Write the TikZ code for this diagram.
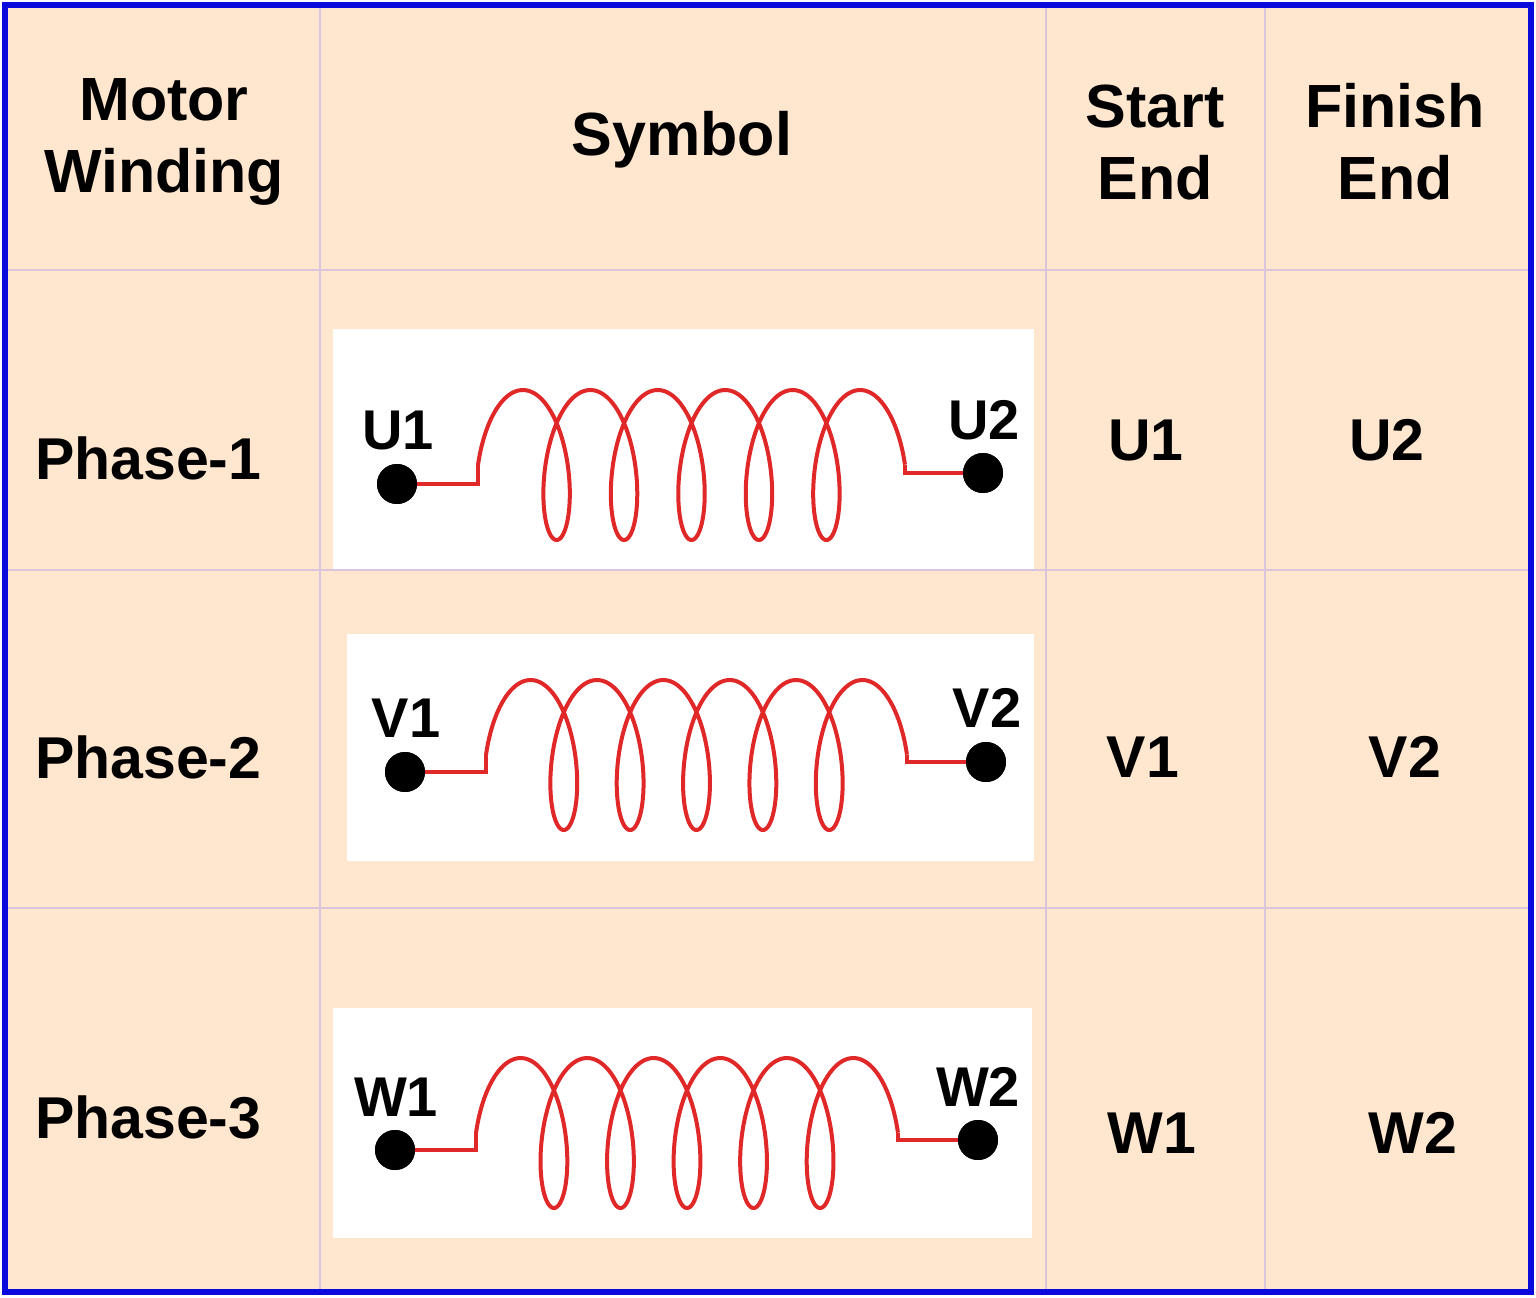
\documentclass[tikz,border=0pt]{standalone}
\usepackage{fontspec}
\setmainfont{Liberation Sans}
\definecolor{peach}{HTML}{FFE6CE}
\definecolor{gridc}{HTML}{D9C6DE}
\definecolor{bord}{HTML}{0A0ADC}
\definecolor{coilred}{HTML}{E02828}
\tikzset{
  hd/.style={font=\fontsize{30.5}{36}\selectfont\bfseries, align=center},
  cell/.style={font=\fontsize{29.5}{36}\selectfont\bfseries},
  lbl/.style={font=\fontsize{28}{32}\selectfont\bfseries},
  term/.style={circle, fill=black, minimum size=20pt, inner sep=0pt},
  wire/.style={coilred, line width=2pt},
}
\newcommand\mycoil[8]{%
 \pgfmathsetmacro\ca{28}
 \pgfmathsetmacro\cr{(#2-#1-2*\ca)/(11*pi)}
 \pgfmathsetmacro\cx{#1+\cr*pi/2+\ca}
 \pgfmathsetmacro\cy{(#3+#4)/2}
 \pgfmathsetmacro\cb{(#4-#3)/2}
 \node[term] (dl) at (#5,#6) {};
 \node[term] (dr) at (#7,#8) {};
 \coordinate (cl) at (#1,\cy);
 \coordinate (cr) at (#2,\cy);
 \draw[wire] (dl.center) -- (#1,#6) -- (cl);
 \draw[wire] (dr.center) -- (#2,#8) -- (cr);
 \draw[wire] plot[domain=-pi/2:10.5*pi, samples=500, variable=\t, smooth]
   ({\cx+\cr*\t+\ca*sin(\t r)}, {\cy-\cb*cos(\t r)});
 \node[term] at (#5,#6) {};
 \node[term] at (#7,#8) {};
}
\begin{document}
\begin{tikzpicture}[x=0.5pt,y=-0.5pt]
\useasboundingbox (0,0) rectangle (1536,1297);
\fill[white] (0,0) rectangle (1536,1297);
\fill[peach] (5,5) rectangle (1531,1292);
\foreach \x in {320,1046,1265} \draw[gridc, line width=0.6pt] (\x,8) -- (\x,1290);
\foreach \y in {270,570,908} \draw[gridc, line width=0.6pt] (8,\y) -- (1528,\y);
\draw[bord, line width=3pt] (5,5) rectangle (1531,1292);
\node[hd] (h1) at (164,142) {Motor\\Winding};
\node[hd] (h2) at (682,140) {Symbol};
\node[hd] (h3) at (1155,142) {Start\\End};
\node[hd] (h4) at (1395,142) {Finish\\End};
\node[cell, anchor=west] (p1) at (28,458) {Phase-1};
\node[cell, anchor=west] (p2) at (28,757) {Phase-2};
\node[cell, anchor=west] (p3) at (28,1117) {Phase-3};
\node[cell] (s1) at (1146,440) {U1};
\node[cell] (f1) at (1387,440) {U2};
\node[cell] (s2) at (1143,757) {V1};
\node[cell] (f2) at (1405,757) {V2};
\node[cell] (s3) at (1152,1133) {W1};
\node[cell] (f3) at (1413,1133) {W2};
\fill[white] (333,329) rectangle (1034,569);
\fill[white] (347,634) rectangle (1034,861);
\fill[white] (333,1008) rectangle (1032,1238);
\mycoil{478}{905}{390}{540}{397}{484}{983}{473}
\node[lbl] (u1) at (398,430) {U1};
\node[lbl] (u2) at (984,420) {U2};
\mycoil{486}{907}{680}{830}{405}{772}{986}{762}
\node[lbl] (v1) at (406,718) {V1};
\node[lbl] (v2) at (987,708) {V2};
\mycoil{476}{898}{1058}{1208}{395}{1150}{978}{1140}
\node[lbl] (w1) at (396,1097) {W1};
\node[lbl] (w2) at (978,1087) {W2};
\end{tikzpicture}
\end{document}
